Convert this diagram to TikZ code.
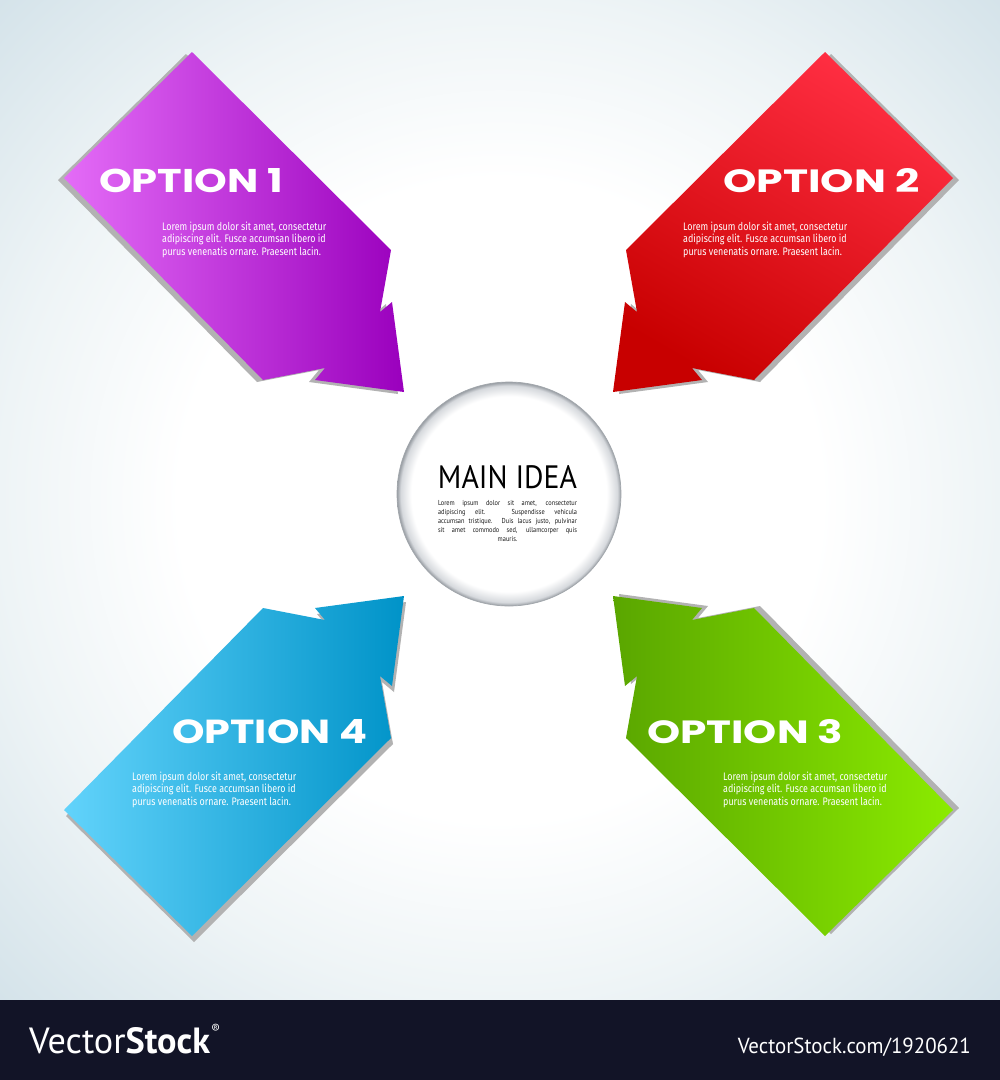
\documentclass[tikz,border=0pt]{standalone}
\usepackage{fontspec}
\usepackage{graphicx}
\setmainfont{Fira Sans}
\newfontfamily\titlefont{Poppins}
\newfontfamily\bodyfont{Fira Sans}[FakeStretch=0.82]
\newfontfamily\ideafont{PT Sans}
\newfontfamily\ideasmall{PT Sans}[FakeStretch=0.88]
\newfontfamily\bannerfont{PT Sans}

\definecolor{pL}{HTML}{E46CF7}
\definecolor{pR}{HTML}{9A00BD}
\definecolor{rT}{HTML}{FF2E42}
\definecolor{rM}{HTML}{EC0606}
\definecolor{rB}{HTML}{C80000}
\definecolor{gL}{HTML}{5AA600}
\definecolor{gR}{HTML}{8BEB00}
\definecolor{bL}{HTML}{62D3FB}
\definecolor{bR}{HTML}{0093C8}
\definecolor{shad}{HTML}{B2B2B2}
\definecolor{barcol}{HTML}{121427}
\definecolor{bgmid}{HTML}{EEF4F6}
\definecolor{bgedge}{HTML}{D3E2E9}
\definecolor{ringlight}{HTML}{D6D9DD}
\definecolor{ringdark}{HTML}{989DA3}
\definecolor{ink}{HTML}{1A1A1A}

\pgfdeclareradialshading{bgshade}{\pgfpoint{0bp}{0bp}}{color(0bp)=(white); color(16bp)=(white); color(25bp)=(bgmid); color(36bp)=(bgedge); color(50bp)=(bgedge)}
\pgfdeclareradialshading{ringshade}{\pgfpoint{0bp}{0bp}}{color(0bp)=(white); color(21.8bp)=(white); color(24.2bp)=(ringlight); color(25bp)=(ringdark); color(50bp)=(ringdark)}

\tikzset{
  titletxt/.style={anchor=base west, inner sep=0pt, text=white},
  bodytxt/.style={anchor=base west, inner sep=0pt, text=white, font=\bodyfont\fontsize{10.9}{12}\selectfont},
  ideatxt/.style={anchor=base, inner sep=0pt, text=ink, font=\ideasmall\fontsize{7.2}{9}\selectfont},
  shpA/.style={insert path={(192,52) -- (391,250) -- (380,312) -- (392,302) -- (404,392) -- (315,380) -- (325,368) -- (263,380) -- (64,178) -- cycle}},
  shpB/.style={insert path={(825,52) -- (626,250) -- (637,312) -- (625,302) -- (613,392) -- (702,380) -- (692,368) -- (754,380) -- (953,178) -- cycle}},
  shpC/.style={insert path={(825,936) -- (626,738) -- (637,676) -- (625,686) -- (613,596) -- (702,608) -- (692,620) -- (754,608) -- (953,810) -- cycle}},
  shpD/.style={insert path={(192,936) -- (391,738) -- (380,676) -- (392,686) -- (404,596) -- (315,608) -- (325,620) -- (263,608) -- (64,810) -- cycle}},
}

\newcommand\optbody[3]{%
  \node[bodytxt] (#1a) at (#2,#3) {Lorem ipsum dolor sit amet, consectetur};
  \node[bodytxt] (#1b) at (#2,#3+12.6) {adipiscing elit. Fusce accumsan libero id};
  \node[bodytxt] (#1c) at (#2,#3+25.2) {purus venenatis ornare. Praesent lacin.};
}

\begin{document}
\begin{tikzpicture}[x=1pt,y=-1pt]
\useasboundingbox (0,0) rectangle (1000,1080);
\shade[shading=bgshade] (0,0) rectangle (1000,1000);
\fill[barcol] (0,1000) rectangle (1000,1080);

% shadows
\fill[shad, shift={(-6,2)}, shpA];
\fill[shad, shift={(6,2)}, shpB];
\fill[shad, shift={(6,-2)}, shpC];
\fill[shad, shift={(2,6)}, shpD];

% arrows
\shade[shpA, left color=pL, right color=pR];
\shade[shpB, top color=rT, middle color=rM, bottom color=rB, shading angle=-30];
\shade[shpC, left color=gL, right color=gR];
\shade[shpD, left color=bL, right color=bR];

% titles
\node[titletxt] (t1) at (99,192) {\titlefont\bfseries\resizebox{184pt}{24pt}{OPTION 1}};
\node[titletxt] (t2) at (723,192) {\titlefont\bfseries\resizebox{196pt}{24pt}{OPTION 2}};
\node[titletxt] (t3) at (647,743) {\titlefont\bfseries\resizebox{196pt}{24pt}{OPTION 3}};
\node[titletxt] (t4) at (172,743) {\titlefont\bfseries\resizebox{195pt}{24pt}{OPTION 4}};

\optbody{b1}{162}{230}
\optbody{b2}{683}{230}
\optbody{b3}{723}{780}
\optbody{b4}{132}{780}

% centre
\node[circle, minimum size=224pt, inner sep=0pt, shading=ringshade, draw=ringdark!90, line width=0.7pt] (hub) at (509,494) {};
\node[anchor=base, inner sep=0pt, text=black] (mi) at (507.5,488) {\ideafont\resizebox{139pt}{23pt}{MAIN IDEA}};
\node[ideatxt] (m1) at (507.5,505) {\makebox[139pt][s]{Lorem ipsum dolor sit amet, consectetur}};
\node[ideatxt] (m2) at (507.5,514) {\makebox[139pt][s]{adipiscing elit. Suspendisse vehicula}};
\node[ideatxt] (m3) at (507.5,523) {\makebox[139pt][s]{accumsan tristique. Duis lacus justo, pulvinar}};
\node[ideatxt] (m4) at (507.5,532) {\makebox[139pt][s]{sit amet commodo sed, ullamcorper quis}};
\node[ideatxt] (m5) at (507.5,541) {mauris.};

% banner
\node[anchor=base west, inner sep=0pt, text=white] (logo) at (29,1053) {\bannerfont\resizebox{181pt}{26pt}{Vector\textbf{Stock}}};
\node[anchor=north west, inner sep=0pt, text=white, font=\bannerfont\fontsize{13}{13}\selectfont] (reg) at (211,1024) {®};
\node[anchor=base east, inner sep=0pt, text=white] (url) at (971,1053) {\bannerfont\resizebox{233pt}{15.5pt}{VectorStock.com/1920621}};
\end{tikzpicture}
\end{document}
